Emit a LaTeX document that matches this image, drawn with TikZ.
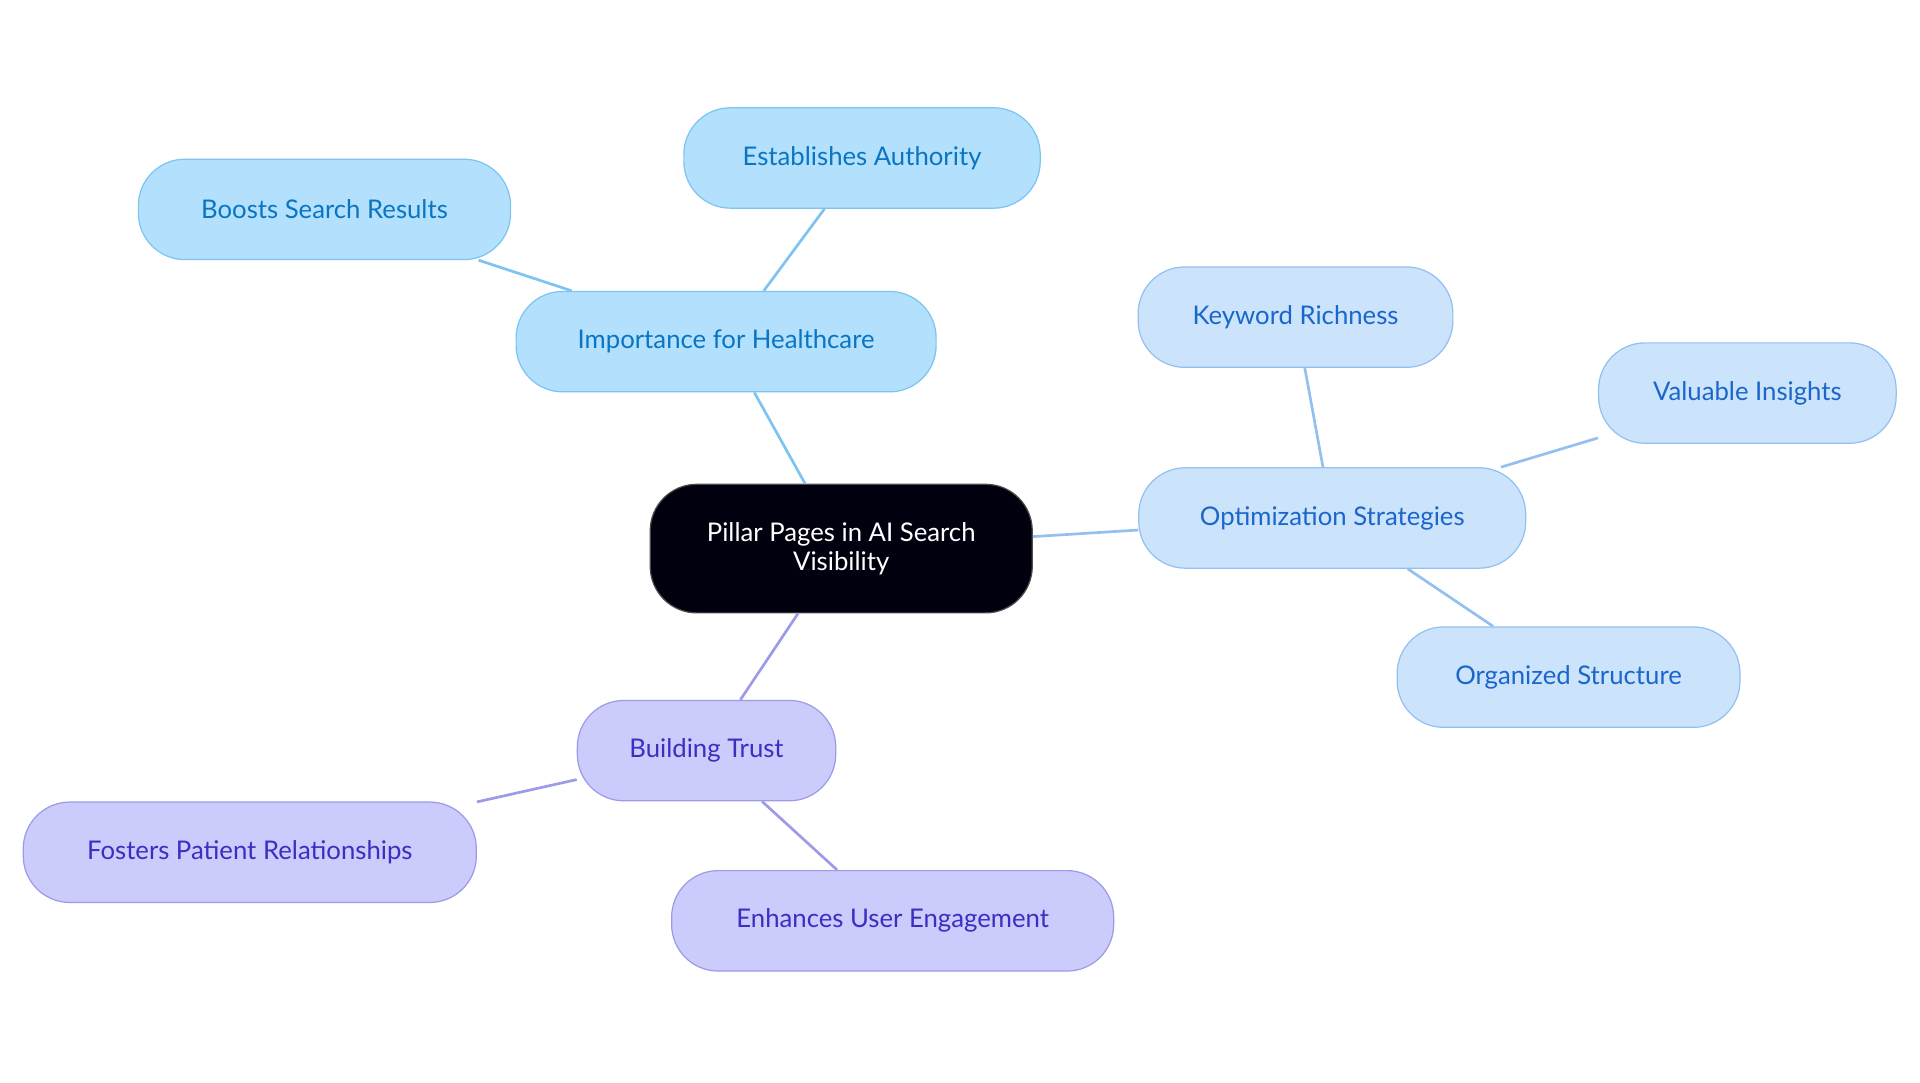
\documentclass[tikz,border=0pt]{standalone}
\usepackage{fontspec}
\setmainfont{Lato}
\begin{document}
\begin{tikzpicture}[x=1pt,y=-1pt,
  base/.style={draw,line width=1pt,rounded corners=38pt,minimum height=82pt,font=\fontsize{21}{24}\selectfont,align=center,inner sep=0pt},
  bA/.style={base,fill=blA,draw=bdA,text=txA},
  bB/.style={base,fill=blB,draw=bdB,text=txB},
  bC/.style={base,fill=blC,draw=bdC,text=txC},
  eA/.style={draw=bdA,line width=2.2pt},
  eB/.style={draw=bdB,line width=2.2pt},
  eC/.style={draw=bdC,line width=2.2pt}]
\definecolor{blA}{HTML}{B3E0FD}\definecolor{bdA}{HTML}{7EC4F0}\definecolor{txA}{HTML}{0A75C2}
\definecolor{blB}{HTML}{CCE3FC}\definecolor{bdB}{HTML}{94C0EF}\definecolor{txB}{HTML}{1A66CC}
\definecolor{blC}{HTML}{CBCBFC}\definecolor{bdC}{HTML}{9D9BE8}\definecolor{txC}{HTML}{3A2FC0}
\useasboundingbox (0,0) rectangle (1568,884);
\node[base,fill=black!90!blue!60!black,draw=black!70,text=white,minimum width=312pt,minimum height=105pt] (c) at (687,448) {Pillar Pages in AI Search\\Visibility};
\node[bA,minimum width=343pt] (ih) at (593,279) {Importance for Healthcare};
\node[bA,minimum width=291pt] (ea) at (704,129) {Establishes Authority};
\node[bA,minimum width=304pt] (bs) at (265,171) {Boosts Search Results};
\node[bB,minimum width=316pt] (os) at (1088,423) {Optimization Strategies};
\node[bB,minimum width=257pt] (kr) at (1058,259) {Keyword Richness};
\node[bB,minimum width=243pt] (vi) at (1427,321) {Valuable Insights};
\node[bB,minimum width=280pt] (og) at (1281,553) {Organized Structure};
\node[bC,minimum width=211pt] (bt) at (577,613) {Building Trust};
\node[bC,minimum width=370pt] (fp) at (204,696) {Fosters Patient Relationships};
\node[bC,minimum width=361pt] (eu) at (729,752) {Enhances User Engagement};
\begin{scope}[on background layer/.try]
\end{scope}
\draw[eA] (c) -- (ih); \draw[eA] (ih) -- (ea); \draw[eA] (ih) -- (bs);
\draw[eB] (c) -- (os); \draw[eB] (os) -- (kr); \draw[eB] (os) -- (vi); \draw[eB] (os) -- (og);
\draw[eC] (c) -- (bt); \draw[eC] (bt) -- (fp); \draw[eC] (bt) -- (eu);
\end{tikzpicture}
\end{document}
